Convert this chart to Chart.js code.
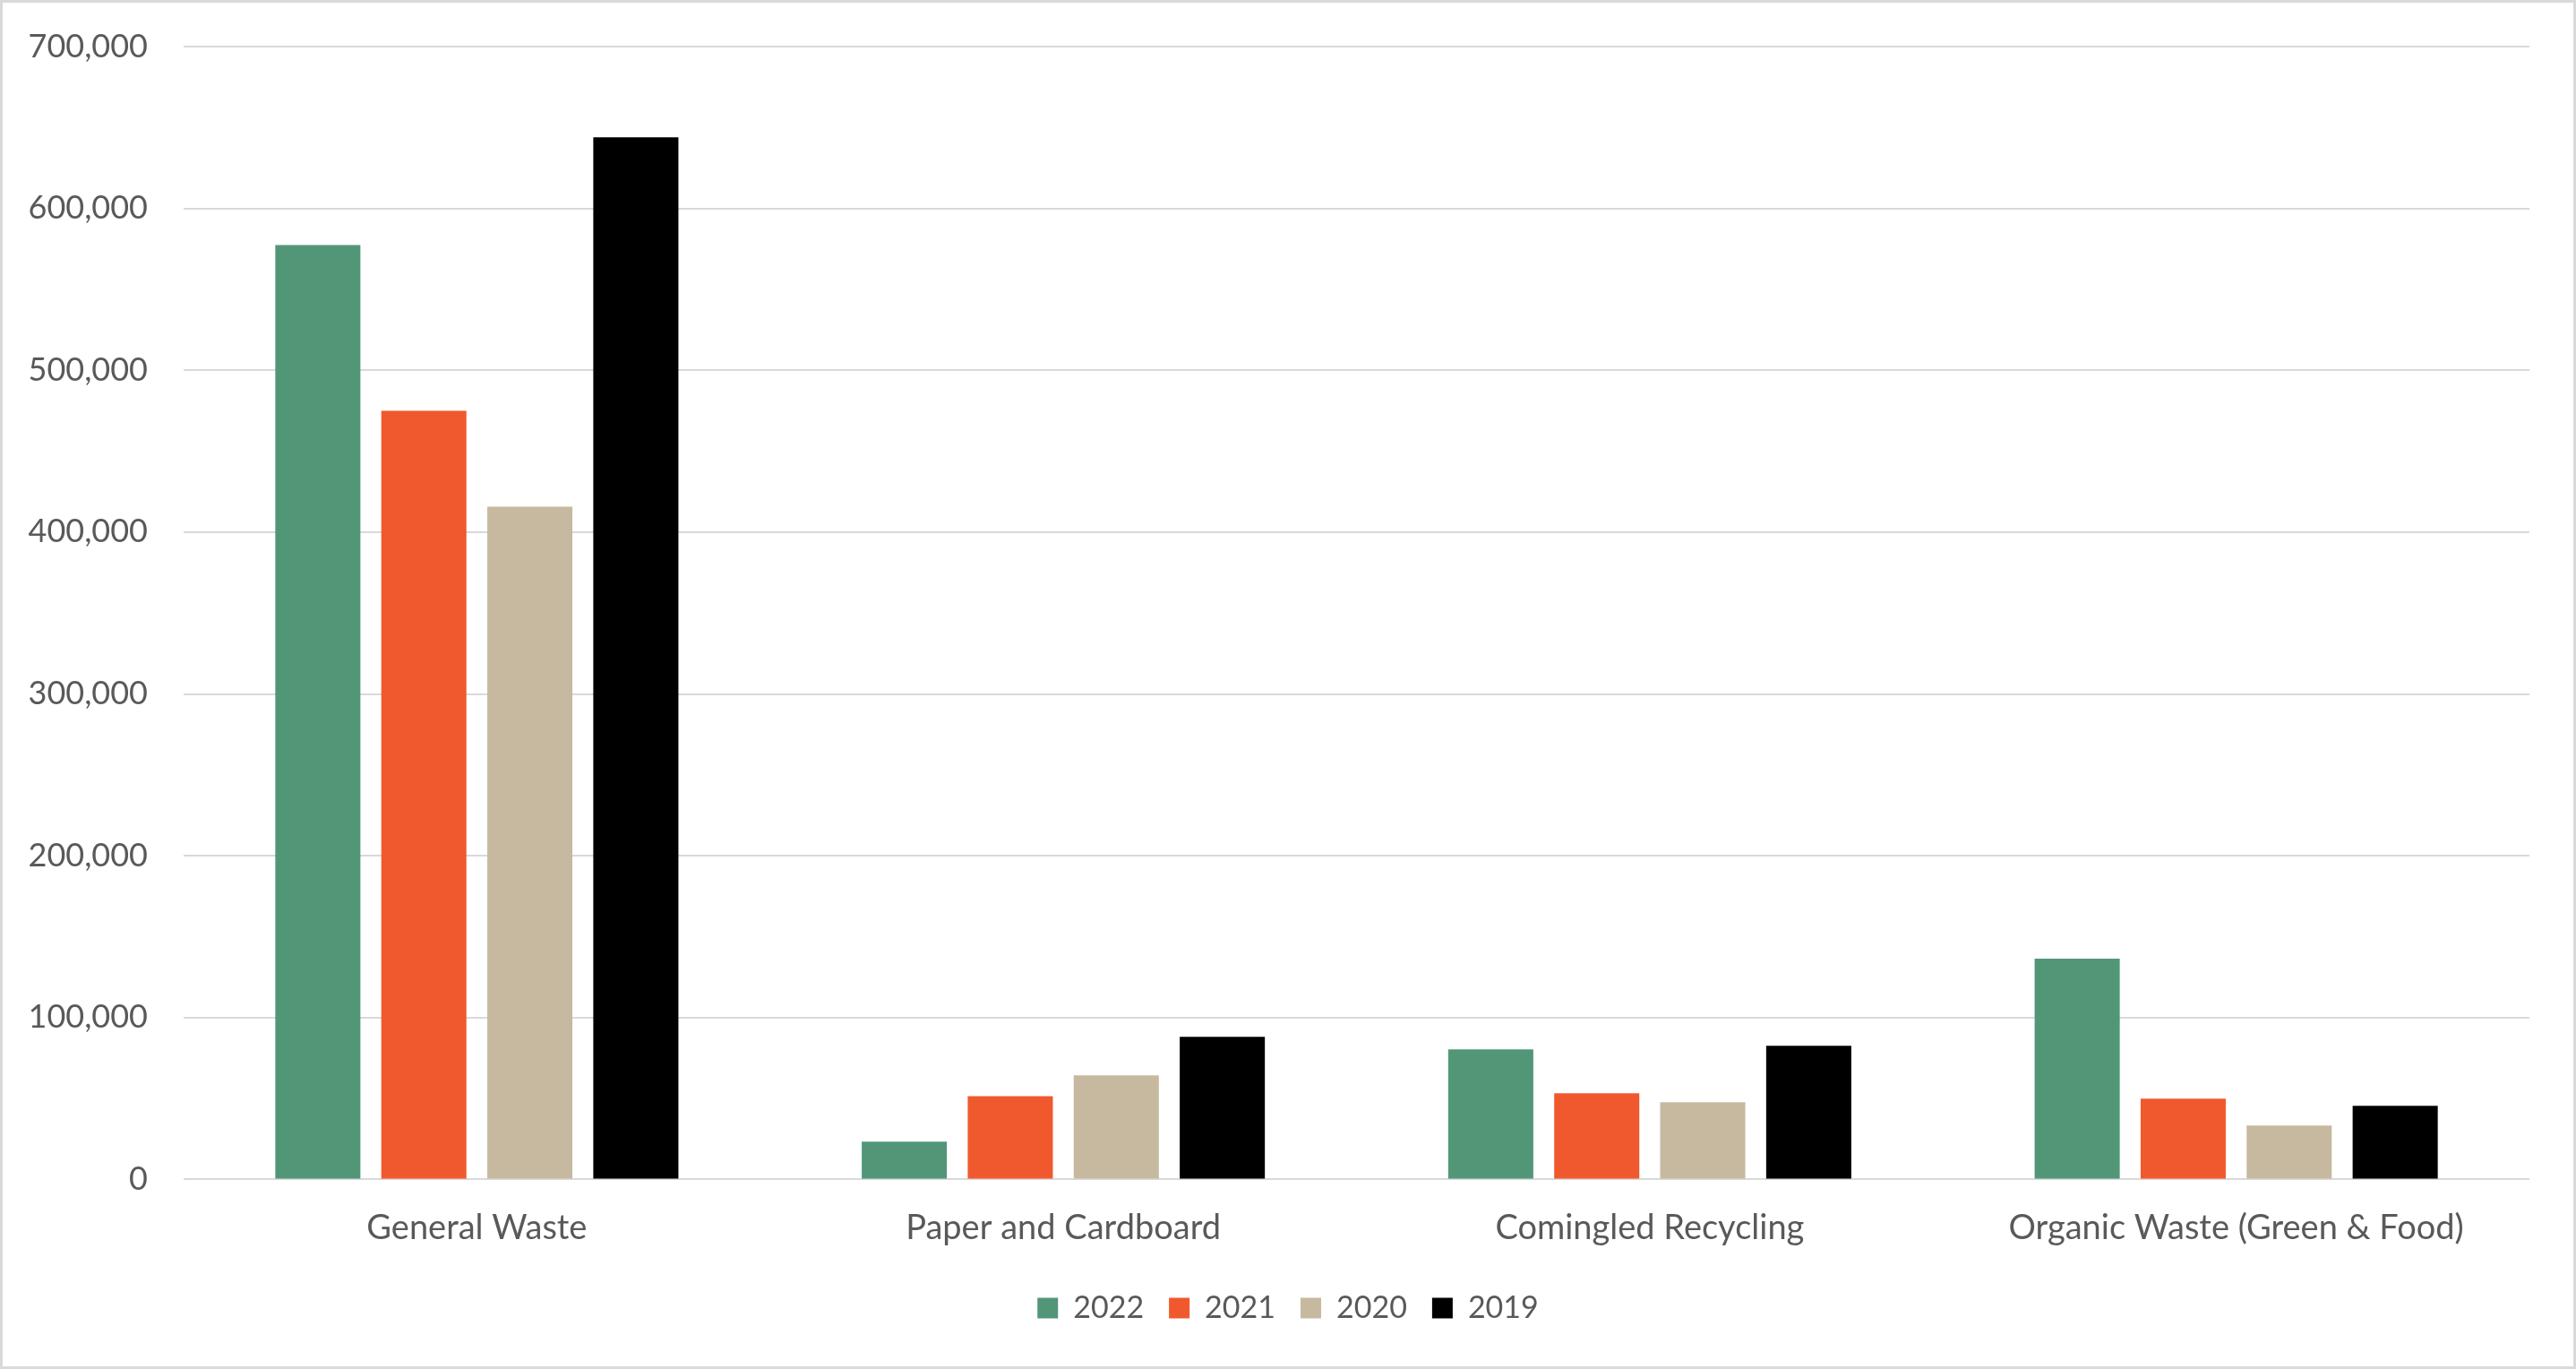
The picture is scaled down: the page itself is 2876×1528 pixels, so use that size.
<!DOCTYPE html>
<html>
<head>
<meta charset="utf-8">
<script src="https://cdn.jsdelivr.net/npm/chart.js@4"></script>
<style>
  html, body { margin: 0; padding: 0; background: #fff; }
  #wrap {
    width: 2876px; height: 1528px; box-sizing: border-box;
    border: 3px solid #d9d9d9; background: #fff;
  }
</style>
</head>
<body>
<div id="wrap"><canvas id="wasteChart"></canvas></div>
<script>
// categories and yearly tonnages
const categories = ['General Waste', 'Paper and Cardboard', 'Comingled Recycling', 'Organic Waste (Green & Food)'];
const years = ['2022', '2021', '2020', '2019'];
const values2022 = [577400, 23300, 80400, 136400];
const values2021 = [475000, 51500, 53200, 49900];
const values2020 = [415700, 64300, 47700, 33300];
const values2019 = [644000, 88100, 82600, 45500];
const yTicks = [0, 100000, 200000, 300000, 400000, 500000, 600000, 700000];

const colours = ['#529678', '#F0592D', '#C7B99F', '#000000'];
const seriesValues = [values2022, values2021, values2020, values2019];

const FONT = 'Lato, "Open Sans", sans-serif';
const TEXT = '#595959';

const ctx = document.getElementById('wasteChart').getContext('2d');

new Chart(ctx, {
    type: 'bar',
    data: {
        labels: categories,
        datasets: years.map((y, i) => ({
            label: y,
            data: seriesValues[i],
            backgroundColor: colours[i],
            borderWidth: 0,
            categoryPercentage: 0.723,
            barPercentage: 0.803
        }))
    },
    options: {
        responsive: true,
        maintainAspectRatio: false,
        animation: false,
        layout: { padding: { left: 0, right: 0, top: 49, bottom: 38 } },
        scales: {
            x: {
                grid: { display: false },
                border: { display: false },
                ticks: { color: TEXT, font: { family: FONT, size: 38 }, padding: 24 },
                afterFit: (axis) => { axis.height -= 3; }
            },
            y: {
                min: 0,
                max: 700000,
                afterBuildTicks: (axis) => { axis.ticks = yTicks.map(v => ({ value: v })); },
                afterFit: (axis) => { axis.width = 202; axis.paddingTop = 0; },
                grid: { color: '#d9d9d9', lineWidth: 2, drawTicks: false },
                border: { display: false },
                ticks: {
                    color: TEXT,
                    font: { family: FONT, size: 36 },
                    padding: 40,
                    callback: (v) => v.toLocaleString('en-US')
                }
            },
            // empty right-hand spacer so the legend stays centred on the whole chart
            spacer: {
                type: 'linear',
                position: 'right',
                grid: { display: false },
                border: { display: false },
                ticks: { display: false },
                afterFit: (axis) => { axis.width = 49; }
            }
        },
        plugins: {
            legend: {
                position: 'bottom',
                labels: {
                    color: TEXT,
                    font: { family: FONT, size: 34 },
                    boxWidth: 23,
                    boxHeight: 23,
                    padding: 28
                }
            },
            tooltip: { enabled: false }
        }
    }
});
</script>
</body>
</html>
